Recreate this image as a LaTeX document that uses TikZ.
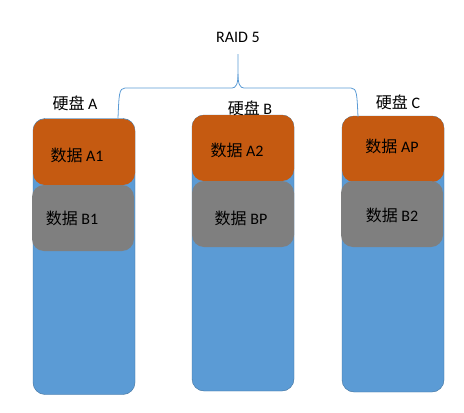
\documentclass[tikz,border=0pt]{standalone}
\usepackage{fontspec}
\setmainfont{Carlito}
\newfontfamily\cjk{Noto Sans CJK SC}
\usetikzlibrary{positioning}
\definecolor{DiskBlue}{RGB}{91,155,213}
\definecolor{DiskEdge}{RGB}{65,113,156}
\definecolor{DataOrange}{RGB}{197,90,17}
\definecolor{DataGray}{RGB}{127,127,127}

\begin{document}
\begin{tikzpicture}[x=1pt, y=-1pt,
disk/.style={draw=DiskEdge, fill=DiskBlue, rounded corners=12pt,
minimum width=102pt, minimum height=276pt, inner sep=0pt},
blk/.style={rounded corners=12pt, minimum width=102pt, minimum height=66pt,
inner sep=0pt},
hot/.style={blk, fill=DataOrange},
cold/.style={blk, fill=DataGray},
lbl/.style={font=\fontsize{16}{18}\selectfont, inner sep=0pt},
brace/.style={draw=DiskBlue, line width=0.8pt}]
\useasboundingbox (0,0) rectangle (464,413);
% disks
\node[disk] (dA) at (84,256.5) {};
\node[disk] (dB) at (243,253) {};
\node[disk] (dC) at (393,254) {};
% data blocks
\node[hot] (a1) at (84,152) {};
\node[cold] (b1) at (83,218) {};
\node[hot] (a2) at (243,148) {};
\node[cold] (bp) at (243,214) {};
\node[hot] (ap) at (393,149) {};
\node[cold] (b2) at (392,214) {};
\node[lbl] at (77,155) {{\cjk 数据} A1};
\node[lbl] at (72,218) {{\cjk 数据} B1};
\node[lbl] at (237,150) {{\cjk 数据} A2};
\node[lbl] at (241,218) {{\cjk 数据} BP};
\node[lbl] at (392,146) {{\cjk 数据} AP};
\node[lbl] at (392,215) {{\cjk 数据} B2};
% titles
\node[lbl] (raid) at (238,37) {RAID 5};
\node[lbl] (tA) at (75,103) {{\cjk 硬盘} A};
\node[lbl] (tB) at (250,108) {{\cjk 硬盘} B};
\node[lbl] (tC) at (398,102) {{\cjk 硬盘} C};
% brace
\draw[brace] (118,118) .. controls (119,95) and (119,88) .. (125,88)
 -- (232,88) .. controls (236,88) and (238,84) .. (238,74) -- (238,54);
\draw[brace] (358,117) .. controls (357,95) and (357,88) .. (351,88)
 -- (244,88) .. controls (240,88) and (238,84) .. (238,74);
\end{tikzpicture}
\end{document}
